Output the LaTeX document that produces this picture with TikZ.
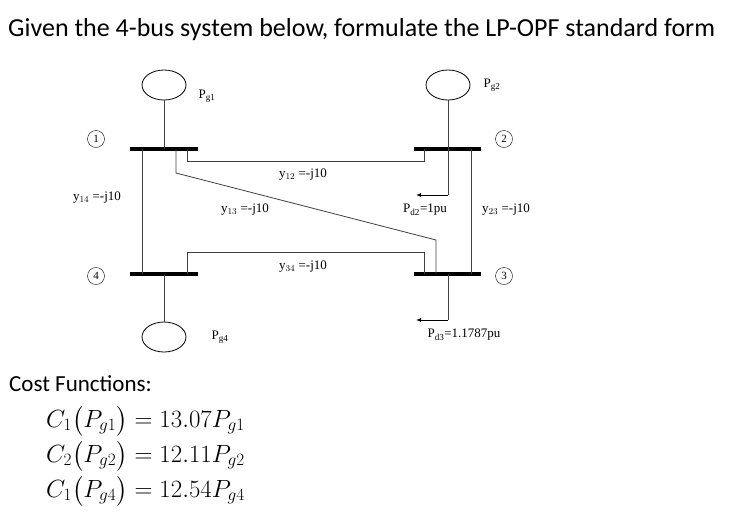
\documentclass[tikz,border=0pt]{standalone}
\usetikzlibrary{shapes.geometric,arrows.meta}
\usepackage{fontspec}
\setmainfont{Liberation Serif}
\newfontfamily\calib{Carlito}
\usepackage{amsmath}
\begin{document}
\begin{tikzpicture}[x=1pt,y=-1pt,
 bar/.style={line width=4.5pt},
 ln/.style={line width=0.8pt, draw=black!75},
 gen/.style={draw, ellipse, minimum width=44pt, minimum height=30pt, inner sep=0pt, line width=0.8pt},
 num/.style={draw, circle, minimum size=17pt, inner sep=0pt, font=\fontsize{11}{12}\selectfont},
 lab/.style={font=\fontsize{13}{15}\selectfont, inner sep=0pt},
 arr/.style={line width=1pt, -{Latex[length=5pt,width=4pt]}}]
\useasboundingbox (0,0) rectangle (735,528);
\node[anchor=west, inner sep=0pt, font=\calib\fontsize{26}{30}\selectfont] (title) at (8,30) {Given the 4-bus system below, formulate the LP-OPF standard form};
% buses
\coordinate (b1l) at (130,149); \coordinate (b1r) at (198,149);
\coordinate (b2l) at (414,149); \coordinate (b2r) at (481,149);
\coordinate (b4l) at (130,274); \coordinate (b4r) at (198,274);
\coordinate (b3l) at (414,274); \coordinate (b3r) at (481,274);
\draw[bar] (b1l) -- (b1r); \draw[bar] (b2l) -- (b2r);
\draw[bar] (b4l) -- (b4r); \draw[bar] (b3l) -- (b3r);
% generators
\node[gen] (g1) at (164,85) {};
\node[gen] (g2) at (448,85) {};
\node[gen] (g4) at (164,337) {};
\draw[ln] (g1.south) -- (164,149);
\draw[ln] (g2.south) -- (448,195);
\draw[ln] (g4.north) -- (164,274);
\coordinate (d2) at (448,195); \coordinate (d2e) at (416,195);
\coordinate (d3s) at (448,274); \coordinate (d3) at (448,320); \coordinate (d3e) at (416,320);
\draw[arr] (d2) -- (d2e);
\draw[ln] (d3s) -- (d3); \draw[arr] (d3) -- (d3e);
% lines
\draw[ln] (142,149) -- (142,274);
\draw[ln] (471,149) -- (471,274);
\draw[ln] (187,149) -- (187,161) -- (424,161) -- (424,149);
\draw[ln] (176,149) -- (176,173) -- (436,240) -- (436,274);
\draw[ln] (187,274) -- (187,252) -- (424,252) -- (424,274);
% numbers
\node[num] (n1) at (96,139) {1};
\node[num] (n2) at (504,139) {2};
\node[num] (n4) at (96,276) {4};
\node[num] (n3) at (504,276) {3};
% labels
\node[lab] (lpg1) at (207,96) {P$_{\text{g1}}$};
\node[lab] (lpg2) at (492,85) {P$_{\text{g2}}$};
\node[lab] (lpg4) at (220,337) {P$_{\text{g4}}$};
\node[lab] (ly12) at (303,175) {y$_{12}$ =-j10};
\node[lab] (ly14) at (97,198) {y$_{14}$ =-j10};
\node[lab] (ly13) at (245,210) {y$_{13}$ =-j10};
\node[lab] (lpd2) at (425,210) {P$_{\text{d2}}$=1pu};
\node[lab] (ly23) at (506,210) {y$_{23}$ =-j10};
\node[lab] (ly34) at (303,267) {y$_{34}$ =-j10};
\node[lab] (lpd3) at (464,335) {P$_{\text{d3}}$=1.1787pu};
% cost
\node[anchor=west, inner sep=0pt, font=\calib\fontsize{23}{26}\selectfont] (cf) at (9,384) {Cost Functions:};
\node[anchor=west, inner sep=0pt, font=\fontsize{25}{28}\selectfont] (c1) at (46,421) {$C_1\bigl(P_{g1}\bigr) = 13.07P_{g1}$};
\node[anchor=west, inner sep=0pt, font=\fontsize{25}{28}\selectfont] (c2) at (46,456) {$C_2\bigl(P_{g2}\bigr) = 12.11P_{g2}$};
\node[anchor=west, inner sep=0pt, font=\fontsize{25}{28}\selectfont] (c3) at (46,491) {$C_1\bigl(P_{g4}\bigr) = 12.54P_{g4}$};
\end{tikzpicture}
\end{document}
